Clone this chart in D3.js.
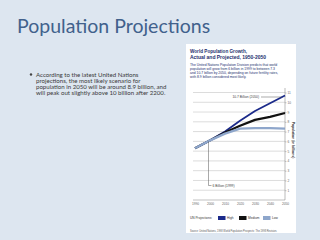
<!DOCTYPE html>
<html lang="en">
    <head>
        <meta charset="utf-8">
        <title>Population Projections</title>
        <script src="https://d3js.org/d3.v7.min.js"></script>
        <style type="text/css">
            body { margin: 0; background: #dde6f0; }
            svg { display: block; }
            .tiny { font-family: "Liberation Sans", Arial, sans-serif; }
            .axis text { fill: #666; font-size: 3.2px; font-family: "Liberation Sans", Arial, sans-serif; }
        </style>
    </head>
    <body>
        <script type="text/javascript">

        //CONSTANTS
            const w = 320;
            const h = 240;

        //DATA
            const years = [1990, 2000, 2010, 2020, 2030, 2040, 2050];
            const high = [5.3, 6.1, 7.0, 8.1, 9.1, 9.9, 10.7];
            const medium = [5.3, 6.1, 6.9, 7.6, 8.2, 8.5, 8.9];
            const low = [5.3, 6.1, 6.8, 7.3, 7.35, 7.35, 7.3];
            const yTicks = [1, 2, 3, 4, 5, 6, 7, 8, 9, 10, 11];
            const seriesNames = ["High", "Medium", "Low"];
            const seriesColors = ["#1b2a8a", "#111111", "#8ea6cb"];
            const bulletLines = [
                "According to the latest United Nations",
                "projections, the most likely scenario for",
                "population in 2050 will be around 8.9 billion, and",
                "will peak out slightly above 10 billion after 2200."
            ];
            const descLines = [
                "The United Nations Population Division predicts that world",
                "population will grow from 6 billion in 1999 to between 7.3",
                "and 10.7 billion by 2050, depending on future fertility rates,",
                "with 8.9 billion considered most likely."
            ];

            const svg = d3.select("body")
                .append("svg")
                .attr("width", w)
                .attr("height", h);

            svg.append("rect").attr("width", w).attr("height", h).attr("fill", "#dde6f0");

        //SLIDE TITLE + BULLET
            svg.append("text")
                .attr("x", 17)
                .attr("y", 33)
                .attr("font-family", "Lato, sans-serif")
                .attr("font-size", 19.5)
                .attr("fill", "#41618c")
                .text("Population Projections");

            svg.append("circle").attr("cx", 31).attr("cy", 74.5).attr("r", 1.2).attr("fill", "#444");

            svg.selectAll(".bullet")
                .data(bulletLines)
                .enter()
                .append("text")
                .attr("class", "bullet")
                .attr("x", 36)
                .attr("y", (d, i) => 76.8 + i * 6.2)
                .attr("font-family", "Lato, sans-serif")
                .attr("font-size", 6.1)
                .attr("fill", "#3a3a3a")
                .text(d => d);

        //CHART PANEL
            svg.append("rect")
                .attr("x", 186).attr("y", 44)
                .attr("width", 110).attr("height", 189)
                .attr("fill", "#ffffff");

            const navy = "#1d2f6e";
            svg.append("text").attr("class", "tiny")
                .attr("x", 190).attr("y", 52.5)
                .attr("font-size", 5.4).attr("font-weight", "bold").attr("fill", navy)
                .attr("textLength", 57).attr("lengthAdjust", "spacingAndGlyphs")
                .text("World Population Growth,");
            svg.append("text").attr("class", "tiny")
                .attr("x", 190).attr("y", 58.5)
                .attr("font-size", 5.4).attr("font-weight", "bold").attr("fill", navy)
                .attr("textLength", 76).attr("lengthAdjust", "spacingAndGlyphs")
                .text("Actual and Projected, 1950-2050");

            svg.selectAll(".desc")
                .data(descLines)
                .enter()
                .append("text")
                .attr("class", "tiny")
                .attr("x", 190)
                .attr("y", (d, i) => 66 + i * 4.1)
                .attr("font-size", 3.4)
                .attr("fill", navy)
                .text(d => d);

        //SCALES
            const xScale = d3.scaleLinear()
                .domain([1990, 2050])
                .range([195, 285]);

            const yScale = d3.scaleLinear()
                .domain([0, 11])
                .range([200, 92.5]);

        //GRIDLINES
            svg.selectAll(".grid")
                .data(yTicks)
                .enter()
                .append("line")
                .attr("x1", 193).attr("x2", 285)
                .attr("y1", d => yScale(d)).attr("y2", d => yScale(d))
                .attr("stroke", "#b8b8b8")
                .attr("stroke-width", 0.5);

        //AXES
            const bottomAxis = d3.axisBottom(xScale)
                .tickValues(years)
                .tickFormat(d3.format("d"))
                .tickSize(0)
                .tickPadding(2.5);
            svg.append("g")
                .attr("class", "axis")
                .attr("transform", "translate(0,200)")
                .call(bottomAxis)
                .call(g => g.select(".domain").attr("stroke", "#999").attr("stroke-width", 0.6).attr("d", "M193,0H285"));

            const rightAxis = d3.axisRight(yScale)
                .tickValues(yTicks)
                .tickSize(1.5)
                .tickPadding(1);
            svg.append("g")
                .attr("class", "axis")
                .attr("transform", "translate(285,0)")
                .call(rightAxis)
                .call(g => g.select(".domain").attr("stroke", "#777").attr("stroke-width", 0.5).attr("d", "M0,88V200"))
                .call(g => g.selectAll(".tick line").attr("stroke", "#777").attr("stroke-width", 0.4));

            svg.append("text").attr("class", "tiny")
                .attr("transform", "translate(291.5,140) rotate(90)")
                .attr("text-anchor", "middle")
                .attr("font-size", 3.4).attr("font-weight", "bold").attr("fill", "#333")
                .text("Population (in billions)");

        //LINES
            const line = d3.line()
                .x((d, i) => xScale(years[i]))
                .y(d => yScale(d))
                .curve(d3.curveLinear);

            const seriesData = [high, medium, low];
            const widths = [1.8, 2.2, 2.4];
            svg.selectAll(".series")
                .data(seriesData)
                .enter()
                .append("path")
                .attr("d", d => line(d))
                .attr("fill", "none")
                .attr("stroke", (d, i) => seriesColors[i])
                .attr("stroke-width", (d, i) => widths[i])
                .attr("stroke-linejoin", "round");

        //ANNOTATIONS
            const x1999 = xScale(1999);
            svg.append("path")
                .attr("d", `M${x1999},${yScale(6)}V185.5H${x1999 + 3}`)
                .attr("fill", "none").attr("stroke", "#555").attr("stroke-width", 0.5);
            svg.append("text").attr("class", "tiny")
                .attr("x", x1999 + 4).attr("y", 186.7)
                .attr("font-size", 3.3).attr("fill", "#444")
                .text("6 Billion (1999)");

            svg.append("text").attr("class", "tiny")
                .attr("x", 259).attr("y", 98.2)
                .attr("text-anchor", "end")
                .attr("font-size", 3.3).attr("fill", "#444")
                .text("10.7 Billion (2050)");
            svg.append("line")
                .attr("x1", 261).attr("x2", 282)
                .attr("y1", 97).attr("y2", 97)
                .attr("stroke", "#555").attr("stroke-width", 0.5);

        //LEGEND
            svg.append("text").attr("class", "tiny")
                .attr("x", 190).attr("y", 219)
                .attr("font-size", 3.2).attr("fill", "#333")
                .text("UN Projections:");

            const legendX = [218, 239, 263];
            const legend = svg.selectAll(".legend")
                .data(seriesNames)
                .enter()
                .append("g")
                .attr("transform", (d, i) => "translate(" + legendX[i] + ",216)");
            legend.append("rect")
                .attr("width", 7.5).attr("height", 4)
                .attr("fill", (d, i) => seriesColors[i]);
            legend.append("text").attr("class", "tiny")
                .attr("x", 9).attr("y", 3.2)
                .attr("font-size", 3.2).attr("fill", "#333")
                .text(d => d);

            svg.append("text").attr("class", "tiny")
                .attr("x", 190).attr("y", 232)
                .attr("font-size", 2.6).attr("fill", "#555")
                .attr("textLength", 87).attr("lengthAdjust", "spacingAndGlyphs")
                .text("Source: United Nations, 1998 World Population Prospects: The 1998 Revision.");
        </script>
    </body>
</html>
